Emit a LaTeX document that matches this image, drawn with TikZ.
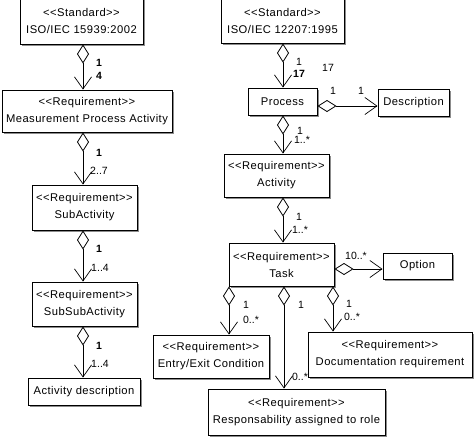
\documentclass[tikz,border=0pt]{standalone}
\usepackage{fontspec}
\setmainfont{Liberation Sans}[Ligatures=TeXOff]
\usetikzlibrary{arrows.meta,shadows}
\begin{document}
\begin{tikzpicture}[x=1pt,y=-1pt,
  box/.style={draw, line width=1pt, fill=white, inner sep=0pt, align=center,
    font=\fontsize{11.2}{17}\selectfont\addfontfeature{LetterSpace=4},
    drop shadow={shadow xshift=1.5pt, shadow yshift=-1.5pt, fill=black!45, opacity=1}},
  agg/.style={line width=0.7pt, {Diamond[open,length=19pt,width=12pt,line width=0.8pt]}-{Straight Barb[length=12pt,width=17pt,line width=0.7pt]}},
  lab/.style={font=\fontsize{10.5}{11}\selectfont, inner sep=0pt},
  blab/.style={lab, font=\fontsize{10.5}{11}\selectfont\bfseries}]
\useasboundingbox (0,0) rectangle (474,440);
% left column
\node[box, minimum width=123pt, minimum height=46pt] (std1) at (81.5,21) {<<Standard>>\\ISO/IEC 15939:2002};
\node[box, minimum width=170pt, minimum height=42pt] (mpa) at (87,111) {<<Requirement>>\\Measurement Process Activity};
\node[box, minimum width=105pt, minimum height=45pt] (sub) at (84.5,207.5) {<<Requirement>>\\SubActivity};
\node[box, minimum width=105pt, minimum height=44pt] (subsub) at (84.5,304) {<<Requirement>>\\SubSubActivity};
\node[box, minimum width=112pt, minimum height=27pt] (adesc) at (84,391.5) {Activity description};
% right column
\node[box, minimum width=123pt, minimum height=45pt] (std2) at (282.5,20.5) {<<Standard>>\\ISO/IEC 12207:1995};
\node[box, minimum width=69pt, minimum height=27pt] (proc) at (282.5,101.5) {Process};
\node[box, minimum width=71pt, minimum height=27pt] (desc) at (413.5,102.5) {Description};
\node[box, minimum width=105pt, minimum height=43pt] (act) at (276.5,175.5) {<<Requirement>>\\Activity};
\node[box, minimum width=105pt, minimum height=43pt] (task) at (281.5,264.5) {<<Requirement>>\\Task};
\node[box, minimum width=69pt, minimum height=26pt] (opt) at (417.5,266) {Option};
\node[box, minimum width=116pt, minimum height=43pt] (entry) at (211,356.5) {<<Requirement>>\\Entry/Exit Condition};
\node[box, minimum width=164pt, minimum height=45pt] (doc) at (390,354.5) {<<Requirement>>\\Documentation requirement};
\node[box, minimum width=177pt, minimum height=46pt] (resp) at (296.5,412) {<<Requirement>>\\Responsability assigned to role};
% connector lanes
\coordinate (L) at (83,0);
\coordinate (R) at (283,0);
\coordinate (h1) at (0,106);
\coordinate (h2) at (0,269);
\coordinate (e1) at (229,0);
\coordinate (r1) at (284,0);
\coordinate (d1) at (333,0);
% connectors
\draw[agg] (std1.south -| L) -- (mpa.north -| L);
\draw[agg] (mpa.south -| L) -- (sub.north -| L);
\draw[agg] (sub.south -| L) -- (subsub.north -| L);
\draw[agg] (subsub.south -| L) -- (adesc.north -| L);
\draw[agg] (std2.south -| R) -- (proc.north -| R);
\draw[agg] (proc.east |- h1) -- (desc.west |- h1);
\draw[agg] (proc.south -| R) -- (act.north -| R);
\draw[agg] (act.south -| R) -- (task.north -| R);
\draw[agg] (task.east |- h2) -- (opt.west |- h2);
\draw[agg] (task.south -| e1) -- (entry.north -| e1);
\draw[agg] (task.south -| r1) -- (resp.north -| r1);
\draw[agg] (task.south -| d1) -- (doc.north -| d1);
% labels left
\node[blab] (l1a) at (99,63) {1};
\node[blab] (l1b) at (99,76) {4};
\node[blab] (l2a) at (99,153) {1};
\node[lab] (l2b) at (99,171) {2..7};
\node[blab] (l3a) at (99,249) {1};
\node[lab] (l3b) at (100,268) {1..4};
\node[blab] (l4a) at (99,346) {1};
\node[lab] (l4b) at (100,364) {1..4};
% labels right
\node[lab] (r1a) at (299,62) {1};
\node[blab] (r1b) at (299,74) {17};
\node[lab] (r1c) at (328,68) {17};
\node[lab] (p1) at (333,91) {1};
\node[lab] (p2) at (361,91) {1};
\node[lab] (r2a) at (300,131) {1};
\node[lab] (r2b) at (302,140) {1..*};
\node[lab] (r3a) at (299,217) {1};
\node[lab] (r3b) at (300,230) {1..*};
\node[lab] (o1) at (356,256) {10..*};
\node[lab] (en1) at (246,305) {1};
\node[lab] (en2) at (251,320) {0..*};
\node[lab] (rs1) at (301,305) {1};
\node[lab] (rs2) at (300,377) {0..*};
\node[lab] (dc1) at (349,304) {1};
\node[lab] (dc2) at (352,317) {0..*};
\end{tikzpicture}
\end{document}
